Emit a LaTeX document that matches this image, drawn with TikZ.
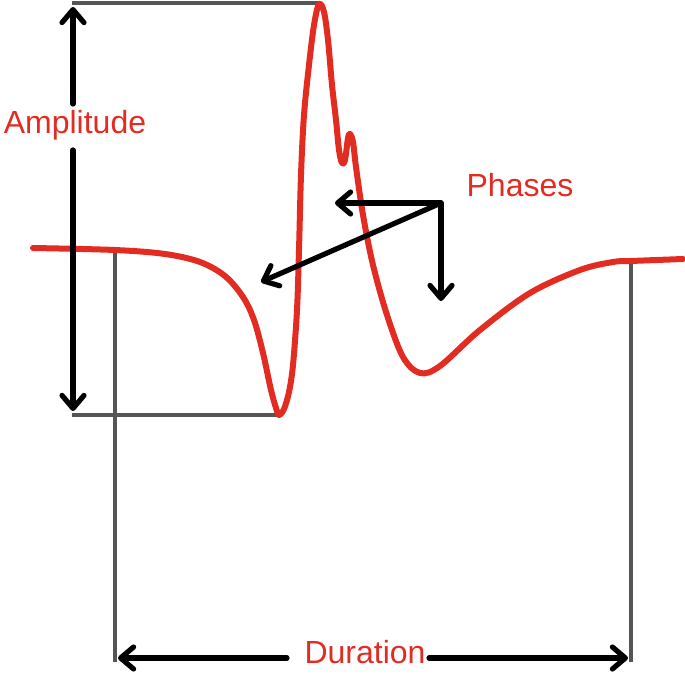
\documentclass[tikz,border=0pt]{standalone}
\usepackage{fontspec}
\setmainfont{Liberation Sans}
\usetikzlibrary{arrows.meta}
\definecolor{sigred}{RGB}{226,44,34}
\definecolor{guide}{RGB}{85,85,85}
\tikzset{
  guideline/.style={draw=guide, line width=3.6pt},
  arr/.style={draw=black, line width=5.2pt, line cap=round, line join=round,
     -{Straight Barb[length=13pt,width=22pt,line cap=round,line join=round]}},
  lbl/.style={text=sigred, font=\fontsize{32}{32}\selectfont, inner sep=0pt, anchor=base},
  signal/.style={draw=sigred, line width=6pt, line cap=round, line join=round}
}
\begin{document}
\begin{tikzpicture}[x=1pt,y=-1pt]
\useasboundingbox (0,0) rectangle (685,677);
% coordinates
\coordinate (tl) at (72,3);
\coordinate (peak) at (320,3);
\coordinate (bl) at (72,415);
\coordinate (trough) at (280,415);
\coordinate (atop) at (73,7);
\coordinate (abot) at (73,411);
\coordinate (a1) at (73,104);
\coordinate (a2) at (73,150);
\coordinate (dl0) at (115,248);
\coordinate (dr0) at (631,261);
\coordinate (dl) at (118,658);
\coordinate (dr) at (628,658);
\coordinate (dl1) at (115,662);
\coordinate (dr1) at (631,662);
\coordinate (d1) at (287,658);
\coordinate (d2) at (429,658);
\coordinate (ph) at (441,203);
\coordinate (p1) at (335,203);
\coordinate (p2) at (261,282);
\coordinate (p3) at (441,301);
% guide lines
\draw[guideline] (tl) -- (peak);
\draw[guideline] (bl) -- (trough);
\draw[guideline] (dl0) -- (dl1);
\draw[guideline] (dr0) -- (dr1);
% labels
\node[lbl] (amp) at (75,133) {Amplitude};
\node[lbl] (dur) at (365,663) {Duration};
\node[lbl] (phs) at (520,196) {Phases};
% signal
\draw[signal] plot[smooth, tension=0.55] coordinates {
 (33,248) (115,250) (165,254) (200,262) (225,276) (243,297) (254,320) (263,353)
 (271,390) (276,408) (279,415) (284,409) (289,392) (293,365) (297,310) (299,250)
 (301,175) (304,115) (309,65) (314,25) (319,4) (324,12) (328,40) (332,85)
 (336,120) (339,150) (342,163) (345,160) (348,138) (350,134) (353,142) (356,167)
 (363,215) (373,265) (387,315) (403,357) (420,373) (440,366) (480,330) (530,293)
 (580,270) (613,262) (631,261) (683,259)};
% arrows
\draw[arr] (a1) -- (atop);
\draw[arr] (a2) -- (abot);
\draw[arr] (d1) -- (dl);
\draw[arr] (d2) -- (dr);
\draw[arr] (ph) -- (p1);
\draw[arr] (ph) -- (p2);
\draw[arr] (ph) -- (p3);
\end{tikzpicture}
\end{document}
